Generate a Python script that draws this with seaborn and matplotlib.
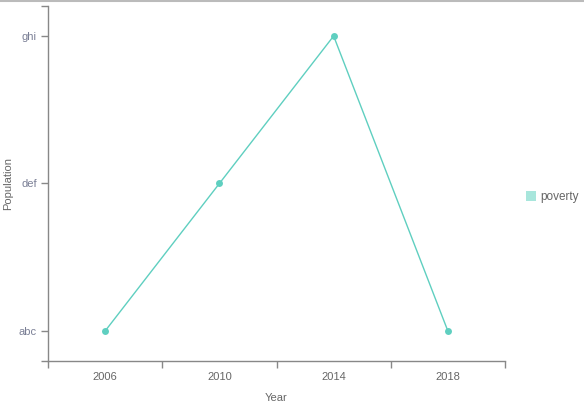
import matplotlib
matplotlib.use("Agg")
import matplotlib.pyplot as plt
import seaborn as sns
import pandas as pd
from matplotlib.lines import Line2D

years = ["2006", "2010", "2014", "2018"]
levels = ["abc", "def", "ghi"]
values = ["abc", "def", "ghi", "abc"]
series_name = "poverty"

df = pd.DataFrame({
    "x": [years.index(y) for y in years],
    "y": [levels.index(v) for v in values],
})

sns.set_style("white")
plt.rcParams["font.family"] = ["Liberation Sans", "DejaVu Sans"]

fig = plt.figure(figsize=(5.84, 4.08), dpi=100)
ax = fig.add_axes([48/584, 47/408, (505-48)/584, (361-6)/408])

line_color = "#5fcfc0"
sns.lineplot(data=df, x="x", y="y", ax=ax, color=line_color, linewidth=1,
             marker="o", markersize=5, markeredgewidth=0, markerfacecolor=line_color)

pad = 30/147.5
ax.set_xlim(-0.5, len(years) - 0.5)
ax.set_ylim(-pad, len(levels) - 1 + pad)

axis_col = "#888888"
text_col = "#666666"
for s in ["top", "right"]:
    ax.spines[s].set_visible(False)
for s in ["left", "bottom"]:
    ax.spines[s].set_color(axis_col)
    ax.spines[s].set_linewidth(1)

# x: band boundaries as tick marks, labels at band centers
ax.set_xticks([i - 0.5 for i in range(len(years) + 1)])
ax.set_xticklabels([])
ax.set_xticks(range(len(years)), minor=True)
ax.set_xticklabels(years, minor=True)
ax.tick_params(axis="x", which="major", bottom=True, length=5, color=axis_col, width=1)
ax.tick_params(axis="x", which="minor", bottom=True, length=0, pad=8, labelsize=8,
               labelcolor=text_col)

ylim = ax.get_ylim()
ax.set_yticks([ylim[0]] + list(range(len(levels))) + [ylim[1]])
ax.set_yticklabels([""] + levels + [""])
ax.tick_params(axis="y", left=True, length=5, color=axis_col, width=1, pad=3, labelsize=8,
               labelcolor="#7a7f95")

ax.set_xlabel("Year", fontsize=8, color=text_col)
ax.xaxis.set_label_coords(0.5, (361 - 393) / 355)
ax.set_ylabel("Population", fontsize=8, color=text_col)
ax.yaxis.set_label_coords((13 - 48) / 457, 0.5)

handle = Line2D([], [], marker="s", linestyle="none", markersize=7.5,
                markerfacecolor="#a8e6dc", markeredgewidth=0)
fig.legend([handle], [series_name], loc="center left",
           bbox_to_anchor=(520/584, 1 - 197/408), frameon=False,
           fontsize=8.5, labelcolor=text_col, handletextpad=0.3, handlelength=1,
           borderaxespad=0)

fig.add_artist(Line2D([0, 1], [1 - 0.5/408, 1 - 0.5/408], color="#bbbbbb", linewidth=1.5,
                      transform=fig.transFigure))

fig.savefig("out.png", dpi=100)
